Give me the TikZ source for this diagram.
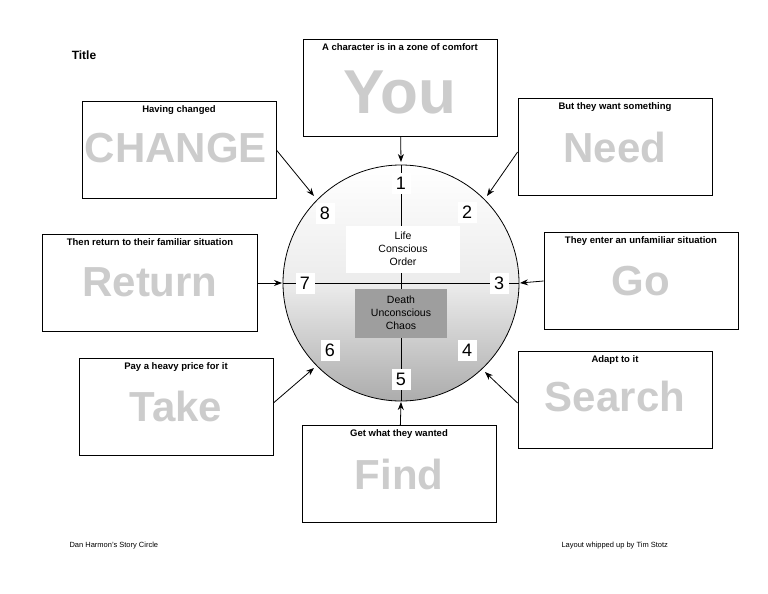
\documentclass[tikz,border=0pt]{standalone}
\usepackage{fontspec}
\setmainfont{Liberation Sans}
\usetikzlibrary{positioning, arrows.meta}
\definecolor{bigword}{gray}{0.80}
\definecolor{deathgray}{gray}{0.62}
\tikzset{
  stage/.style={draw, thick, minimum width=194pt, minimum height=97pt, inner sep=0pt},
  caption/.style={font=\bfseries\fontsize{9.5}{11}\selectfont},
  word/.style={text=bigword, font=\bfseries\fontsize{42}{44}\selectfont},
  num/.style={fill=white, font=\fontsize{18}{19}\selectfont, inner sep=2pt, minimum width=19pt, minimum height=21pt},
  link/.style={thick, -{Stealth[length=8pt, width=6pt]}}
}
\begin{document}
\begin{tikzpicture}[x=1pt, y=-1pt]
    \useasboundingbox (0,0) rectangle (768,594);
    % The circle
    \shade[top color=white, bottom color=gray!65, middle color=white!85!gray] (401,283) circle (118);
    \draw[thick] (401,283) circle (118);
    \node[coordinate] (top) at (401,165) {};
    \node[coordinate] (bot) at (401,401) {};
    \node[coordinate] (lft) at (283,283) {};
    \node[coordinate] (rgt) at (519,283) {};
    \draw[thick] (top) -- (bot) (lft) -- (rgt);
    \node[fill=white, minimum width=114pt, minimum height=47pt, align=center, font=\fontsize{10.5}{13}\selectfont] (life) at (403,249) {Life\\Conscious\\Order};
    \node[fill=deathgray, minimum width=92pt, minimum height=49pt, align=center, font=\fontsize{10.5}{13}\selectfont] (death) at (401,313) {Death\\Unconscious\\Chaos};
    \node[num] (n1) at (401,183) {1};
    \node[num] (n2) at (467,212) {2};
    \node[num] (n3) at (499,283) {3};
    \node[num] (n4) at (467,350) {4};
    \node[num] (n5) at (401,379) {5};
    \node[num] (n6) at (330,350) {6};
    \node[num] (n7) at (305,283) {7};
    \node[num] (n8) at (325,213) {8};

    % The eight stages
    \node[stage] (you) at (400,88) {};
    \node[caption, below=1pt of you.north] {A character is in a zone of comfort};
    \node[text=bigword, font=\bfseries\fontsize{62}{64}\selectfont] at (400,92) {You};
    \node[stage] (need) at (615,147) {};
    \node[caption, below=1pt of need.north] {But they want something};
    \node[word] at (615,147) {Need};
    \node[stage] (go) at (641,281) {};
    \node[caption, below=1pt of go.north] {They enter an unfamiliar situation};
    \node[word] at (641,281) {Go};
    \node[stage] (search) at (615,400) {};
    \node[caption, below=1pt of search.north] {Adapt to it};
    \node[word] at (615,396) {Search};
    \node[stage] (find) at (399,474) {};
    \node[caption, below=1pt of find.north] {Get what they wanted};
    \node[word] at (399,474) {Find};
    \node[stage] (take) at (176,407) {};
    \node[caption, below=1pt of take.north] {Pay a heavy price for it};
    \node[word] at (176,406) {Take};
    \node[stage, minimum width=215pt] (return) at (150,283) {};
    \node[caption, below=1pt of return.north] {Then return to their familiar situation};
    \node[word] at (150,282) {Return};
    \node[stage] (change) at (179,150) {};
    \node[caption, below=1pt of change.north] {Having changed};
    \node[word] at (176,148) {CHANGE};

    % Arrows into the circle
    \node[coordinate] (a1) at (401,162) {};
    \node[coordinate] (a2) at (487,196) {};
    \node[coordinate] (a3) at (520,283) {};
    \node[coordinate] (a4) at (485,372) {};
    \node[coordinate] (a5) at (401,402) {};
    \node[coordinate] (a6) at (314,368) {};
    \node[coordinate] (a7) at (282,283) {};
    \node[coordinate] (a8) at (314,196) {};
    \draw[link] (you) -- (a1);
    \draw[link] (need.west) ++(0,5) -- (a2);
    \draw[link] (go.west) -- (a3);
    \draw[link] (search.west) ++(0,3) -- (a4);
    \draw[link] (find) -- (a5);
    \draw[link] (take.east) ++(0,-4) -- (a6);
    \draw[link] (return.east) -- (a7);
    \draw[link] (change.east) -- (a8);

    % Labels
    \node[font=\bfseries\fontsize{12}{14}\selectfont] (title) at (84,55) {Title};
    \node[anchor=west, font=\fontsize{7.5}{8}\selectfont] (credit1) at (66,546) {Dan Harmon's Story Circle};
    \node[anchor=west, font=\fontsize{7.5}{8}\selectfont] (credit2) at (558,546) {Layout whipped up by Tim Stotz};
\end{tikzpicture}
\end{document}
